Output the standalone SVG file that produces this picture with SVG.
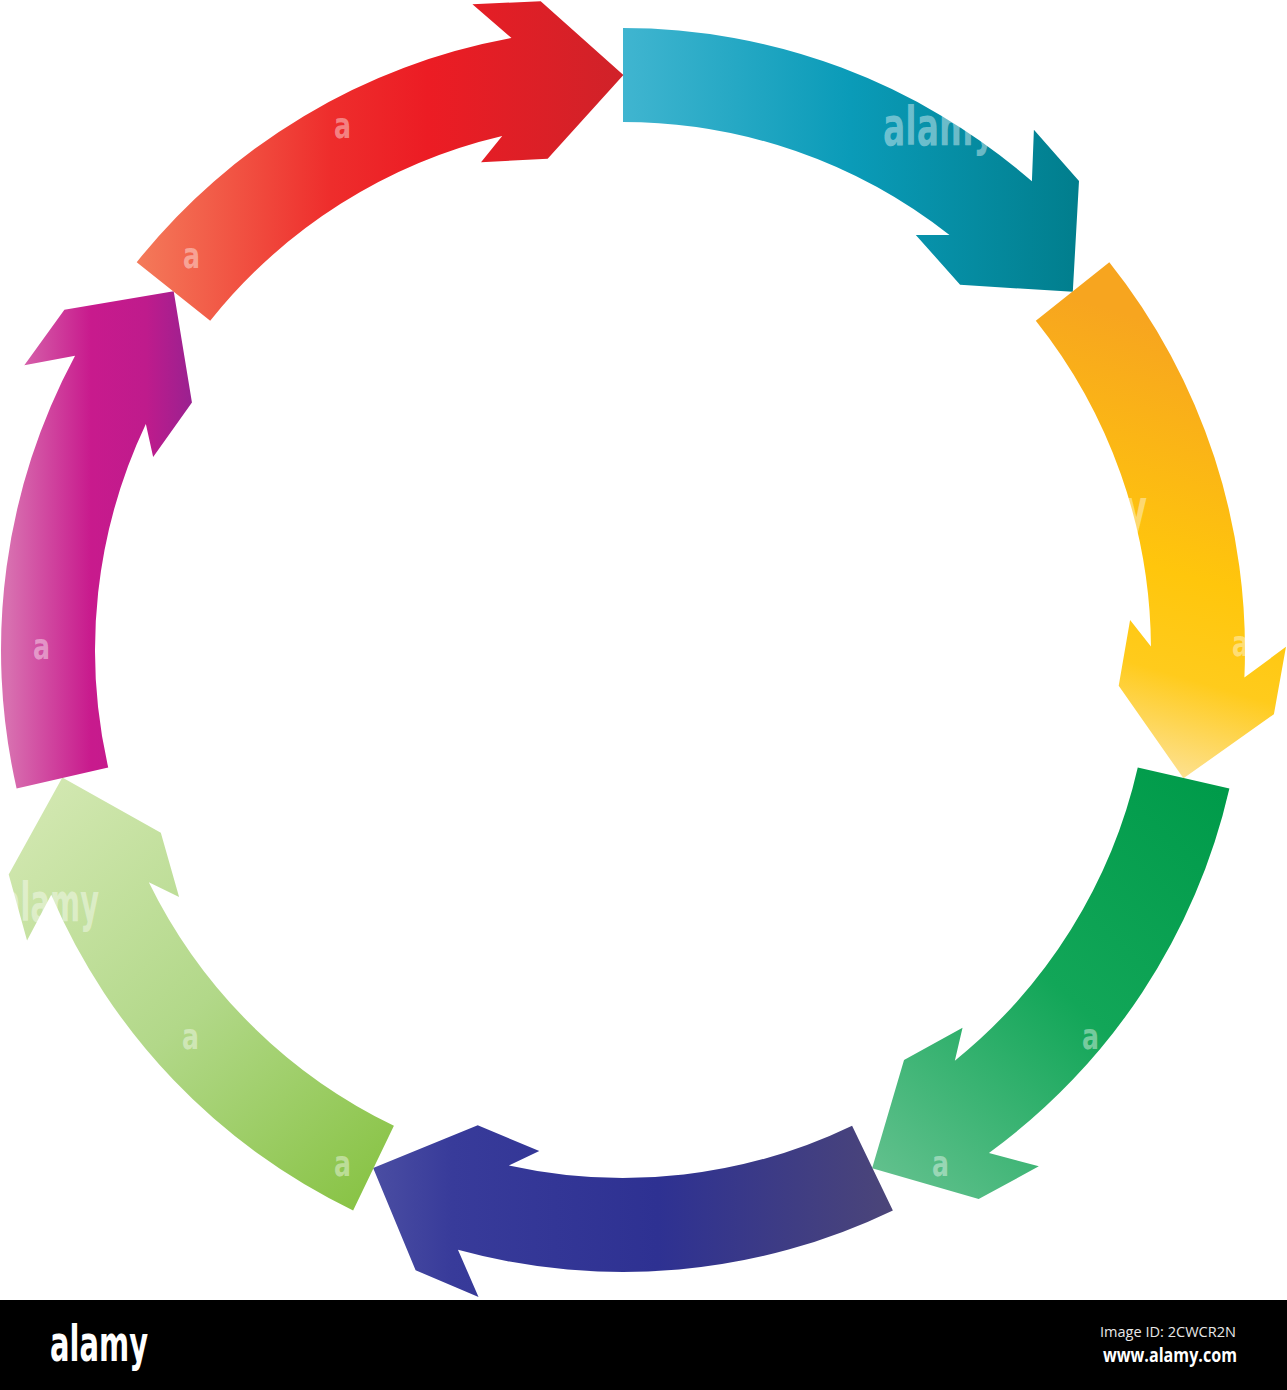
<svg xmlns="http://www.w3.org/2000/svg" xmlns:xlink="http://www.w3.org/1999/xlink" width="1287" height="1390" viewBox="0 0 1287 1390">
<style>
.wm{fill:#ffffff;fill-opacity:0.42;font-family:"DejaVu Sans Condensed","DejaVu Sans",sans-serif;font-weight:bold;font-stretch:condensed}
.mark{font-size:36px}
.big{font-size:54px}
</style>
<defs>
<path id="arrowShape" d="M 0,-622 A 622 622 0 0 1 408.9,-468.7 L 410.9,-520.3 L 456,-468.9 L 449.8,-358.2 L 337.1,-365.2 L 292.8,-415.1 L 326.5,-414.9 A 528 528 0 0 0 0,-528 Z"/>
<linearGradient id="gCyan" gradientUnits="userSpaceOnUse" x1="0" y1="-575" x2="455" y2="-575">
<stop offset="0" stop-color="#40B5D0"/><stop offset="0.5" stop-color="#0A9BB8"/><stop offset="1" stop-color="#017E8D"/>
</linearGradient>
<linearGradient id="gYellow" gradientUnits="userSpaceOnUse" gradientTransform="rotate(-51.4286)" x1="627" y1="-300" x2="507" y2="110">
<stop offset="0" stop-color="#F7A51F"/><stop offset="0.55" stop-color="#FFC60C"/><stop offset="0.78" stop-color="#FFCB1C"/><stop offset="1" stop-color="#FDE08C"/>
</linearGradient>
<linearGradient id="gGreen" gradientUnits="userSpaceOnUse" gradientTransform="rotate(-102.857)" x1="597" y1="140" x2="257" y2="520">
<stop offset="0" stop-color="#009B4A"/><stop offset="0.5" stop-color="#12A658"/><stop offset="1" stop-color="#60C08C"/>
</linearGradient>
<linearGradient id="gBlue" gradientUnits="userSpaceOnUse" gradientTransform="rotate(-154.286)" x1="-248" y1="560" x2="267" y2="560">
<stop offset="0" stop-color="#4A4DA2"/><stop offset="0.15" stop-color="#383B9A"/><stop offset="0.55" stop-color="#2E3192"/><stop offset="1" stop-color="#4B4579"/>
</linearGradient>
<linearGradient id="gLime" gradientUnits="userSpaceOnUse" gradientTransform="rotate(-205.714)" x1="-603" y1="150" x2="-233" y2="550">
<stop offset="0" stop-color="#D3E8B2"/><stop offset="0.5" stop-color="#B2D889"/><stop offset="1" stop-color="#86C241"/>
</linearGradient>
<linearGradient id="gMagenta" gradientUnits="userSpaceOnUse" gradientTransform="rotate(-257.143)" x1="-615" y1="0" x2="-431" y2="0">
<stop offset="0" stop-color="#D870B0"/><stop offset="0.45" stop-color="#C81A8D"/><stop offset="0.75" stop-color="#BF1B8C"/><stop offset="1" stop-color="#9A2190"/>
</linearGradient>
<linearGradient id="gRed" gradientUnits="userSpaceOnUse" gradientTransform="rotate(-308.571)" x1="-486" y1="-300" x2="-1" y2="-300">
<stop offset="0" stop-color="#F47A5A"/><stop offset="0.4" stop-color="#EE2D2C"/><stop offset="0.6" stop-color="#EC1C24"/><stop offset="1" stop-color="#D02229"/>
</linearGradient>
</defs>
<rect width="1287" height="1390" fill="#ffffff"/>
<g id="connectors"/>
<g id="arrow-cyan"><use xlink:href="#arrowShape" href="#arrowShape" transform="translate(623,650)" fill="url(#gCyan)"/></g>
<g id="arrow-yellow"><use xlink:href="#arrowShape" href="#arrowShape" transform="translate(623,650) rotate(51.4286)" fill="url(#gYellow)"/></g>
<g id="arrow-green"><use xlink:href="#arrowShape" href="#arrowShape" transform="translate(623,650) rotate(102.857)" fill="url(#gGreen)"/></g>
<g id="arrow-blue"><use xlink:href="#arrowShape" href="#arrowShape" transform="translate(623,650) rotate(154.286)" fill="url(#gBlue)"/></g>
<g id="arrow-lime"><use xlink:href="#arrowShape" href="#arrowShape" transform="translate(623,650) rotate(205.714)" fill="url(#gLime)"/></g>
<g id="arrow-magenta"><use xlink:href="#arrowShape" href="#arrowShape" transform="translate(623,650) rotate(257.143)" fill="url(#gMagenta)"/></g>
<g id="arrow-red"><use xlink:href="#arrowShape" href="#arrowShape" transform="translate(623,650) rotate(308.571)" fill="url(#gRed)"/></g>
<g id="watermark">
<text class="wm big" x="883" y="145" textLength="112" lengthAdjust="spacingAndGlyphs">alamy</text>
<text class="wm big" x="1" y="921" textLength="98" lengthAdjust="spacingAndGlyphs">alamy</text>
<text class="wm big" x="1035" y="527" textLength="112" lengthAdjust="spacingAndGlyphs">alamy</text>
<text class="wm mark" x="334" y="138" textLength="17" lengthAdjust="spacingAndGlyphs">a</text>
<text class="wm mark" x="183" y="268" textLength="17" lengthAdjust="spacingAndGlyphs">a</text>
<text class="wm mark" x="33" y="659" textLength="17" lengthAdjust="spacingAndGlyphs">a</text>
<text class="wm mark" x="182" y="1049" textLength="17" lengthAdjust="spacingAndGlyphs">a</text>
<text class="wm mark" x="334" y="1176" textLength="17" lengthAdjust="spacingAndGlyphs">a</text>
<text class="wm mark" x="932" y="1176" textLength="17" lengthAdjust="spacingAndGlyphs">a</text>
<text class="wm mark" x="1082" y="1049" textLength="17" lengthAdjust="spacingAndGlyphs">a</text>
<text class="wm mark" x="1232" y="656" textLength="17" lengthAdjust="spacingAndGlyphs">a</text>
</g>
<g id="footer">
<rect x="0" y="1300" width="1287" height="90" fill="#000000"/>
<text x="50" y="1361" fill="#ffffff" font-family="DejaVu Sans Condensed, DejaVu Sans, sans-serif" font-weight="bold" font-size="50" textLength="98" lengthAdjust="spacingAndGlyphs">alamy</text>
<text x="1100" y="1337" fill="#e8e8e8" font-family="Open Sans, Noto Sans, sans-serif" font-size="15" textLength="136" lengthAdjust="spacingAndGlyphs">Image ID: 2CWCR2N</text>
<text x="1103" y="1362" fill="#ffffff" font-family="Open Sans, Noto Sans, sans-serif" font-weight="bold" font-size="19" textLength="134" lengthAdjust="spacingAndGlyphs">www.alamy.com</text>
</g>
</svg>
